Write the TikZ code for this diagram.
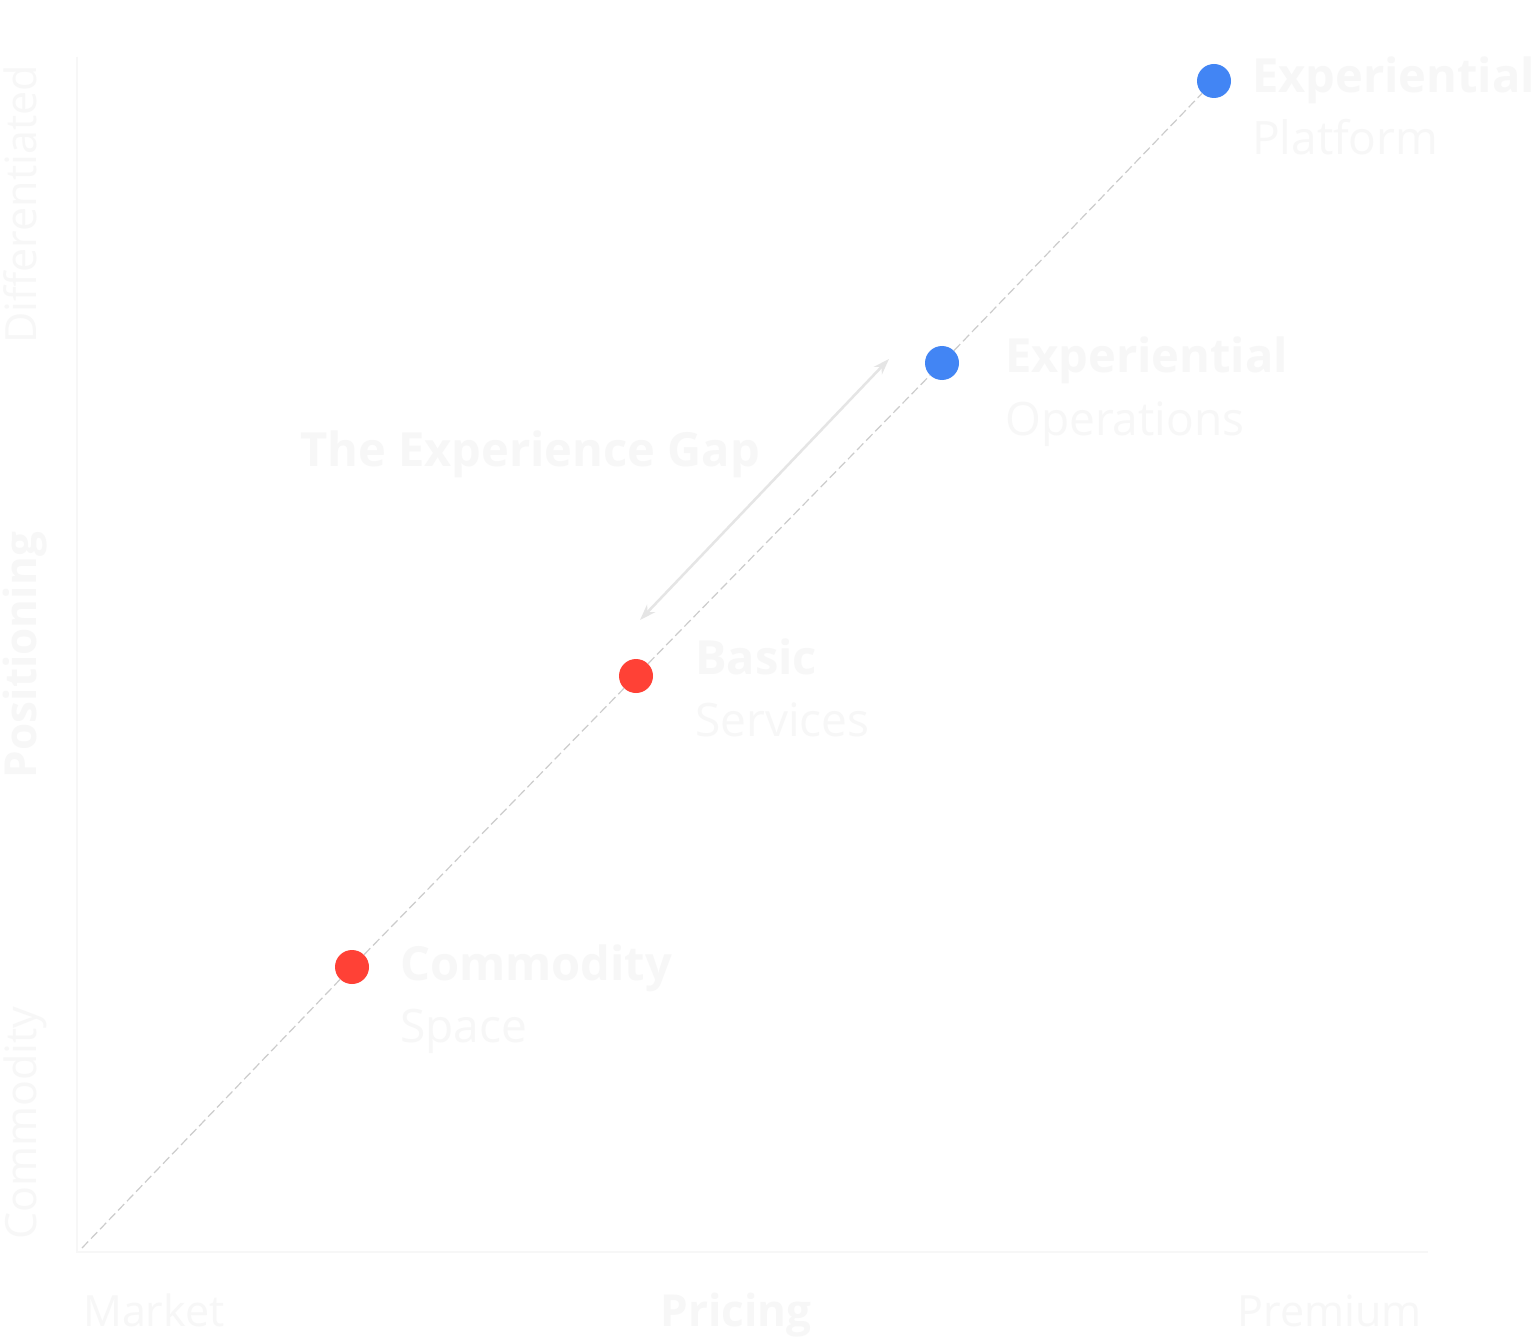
\documentclass[tikz,border=0pt]{standalone}
\usepackage{fontspec}
\setmainfont{Open Sans}
\usetikzlibrary{arrows.meta, positioning, calc}
\definecolor{dotred}{HTML}{FF4136}
\definecolor{dotblue}{HTML}{4285F4}
\definecolor{pale}{HTML}{F7F7F7}
\tikzset{
  dot/.style={circle, minimum size=34pt, inner sep=0pt},
  dotr/.style={dot, fill=dotred},
  dotb/.style={dot, fill=dotblue},
  txt/.style={inner sep=0pt, text=pale, font=\fontsize{46}{55}\selectfont},
  head/.style={txt, font=\fontsize{47}{55}\selectfont\bfseries},
  axtxt/.style={txt, font=\fontsize{43}{52}\selectfont},
  axhead/.style={txt, font=\fontsize{44}{52}\selectfont\bfseries},
  axis/.style={draw=pale, line width=2pt},
  trend/.style={draw=black!20, line width=1.2pt, dash pattern=on 9pt off 4pt},
  gap/.style={{Stealth[length=16pt, width=11pt]}-{Stealth[length=16pt, width=11pt]},
              draw=black!10, line width=2.5pt},
}

\begin{document}
\begin{tikzpicture}[x=1pt, y=-1pt]
  \useasboundingbox (0,0) rectangle (1536,1337);
  \fill[white] (0,0) rectangle (1536,1337);

  \coordinate (orig) at (77,1252);
  \coordinate (ytop) at (77,57);
  \coordinate (xend) at (1428,1252);
  \coordinate (start) at (82,1248);
  \draw[axis] (ytop) -- (orig) -- (xend);

  \node[dotr] (comm) at (352,967) {};
  \node[dotr] (basic) at (636,676) {};
  \node[dotb] (ops) at (942,363) {};
  \node[dotb] (plat) at (1214,81) {};

  \draw[trend] (start) -- (comm) -- (basic) -- (ops) -- (plat);

  \coordinate (gapS) at (640,620);
  \coordinate (gapE) at (889,359);
  \draw[gap] (gapS) -- (gapE);
  \node[head, anchor=base west] (gaplbl) at (300,466) {The Experience Gap};

  \node[head, anchor=base west] (platH) at ($(plat)+(38,12)$) {Experiential};
  \node[txt, anchor=base west] (platS) at ($(platH.base west)+(0,62)$) {Platform};
  \node[head, anchor=base west] (opsH) at ($(ops)+(63,10)$) {Experiential};
  \node[txt, anchor=base west] (opsS) at ($(opsH.base west)+(0,62)$) {Operations};
  \node[head, anchor=base west] (basicH) at ($(basic)+(59,-2)$) {Basic};
  \node[txt, anchor=base west] (basicS) at ($(basicH.base west)+(0,62)$) {Services};
  \node[head, anchor=base west] (commH) at ($(comm)+(48,13)$) {Commodity};
  \node[txt, anchor=base west] (commS) at ($(commH.base west)+(0,62)$) {Space};

  \node[axtxt, anchor=base west] (market) at (83,1326) {Market};
  \node[axhead, anchor=base] (pricing) at (736,1326) {Pricing};
  \node[axtxt, anchor=base east] (premium) at (1422,1326) {Premium};

  \node[axtxt, rotate=90, anchor=base east] (diff) at (36,65) {Differentiated};
  \node[axhead, rotate=90, anchor=base] (posn) at (36,655) {Positioning};
  \node[axtxt, rotate=90, anchor=base west] (cmdty) at (36,1240) {Commodity};
\end{tikzpicture}
\end{document}
